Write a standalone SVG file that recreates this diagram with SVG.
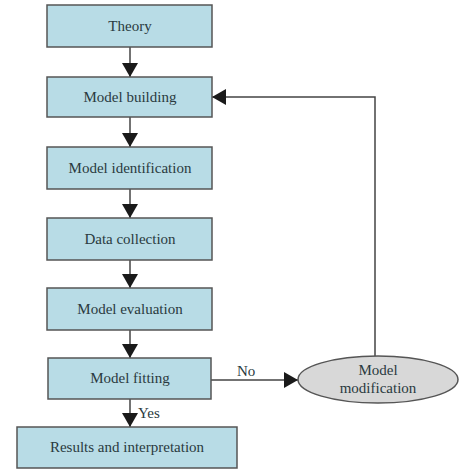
<svg xmlns="http://www.w3.org/2000/svg" width="474" height="474" viewBox="0 0 474 474">
<style>
.box{fill:#b8dce6;stroke:#555;stroke-width:1.5}
.ell{fill:#d8d8d8;stroke:#555;stroke-width:1.5}
.t{font-family:"Liberation Serif",serif;font-size:15px;fill:#2a3a40;text-anchor:middle}
.l{font-family:"Liberation Serif",serif;font-size:15px;fill:#2a3a40}
.c{stroke:#444;stroke-width:1.5;fill:none}
</style>
<defs>
<marker id="a" markerWidth="14" markerHeight="16" refX="14" refY="8" orient="auto" markerUnits="userSpaceOnUse">
<path d="M0,0 L14,8 L0,16 Z" fill="#1a1a1a"/>
</marker>
</defs>
<rect width="474" height="474" fill="#fff"/>
<g id="connectors">
<line class="c" x1="130" y1="47" x2="130" y2="77" marker-end="url(#a)"/>
<line class="c" x1="130" y1="117" x2="130" y2="147" marker-end="url(#a)"/>
<line class="c" x1="130" y1="189" x2="130" y2="218" marker-end="url(#a)"/>
<line class="c" x1="130" y1="260" x2="130" y2="288" marker-end="url(#a)"/>
<line class="c" x1="130" y1="330" x2="130" y2="358" marker-end="url(#a)"/>
<line class="c" x1="130" y1="399" x2="130" y2="427" marker-end="url(#a)"/>
<line class="c" x1="211" y1="380" x2="298" y2="380" marker-end="url(#a)"/>
<polyline class="c" points="375,356 375,97 212,97" marker-end="url(#a)"/>
<text class="l" x="237" y="376">No</text>
<text class="l" x="138" y="418">Yes</text>
</g>
<g id="theory"><rect class="box" x="47" y="5" width="165" height="42"/><text class="t" x="130" y="31">Theory</text></g>
<g id="model-building"><rect class="box" x="47" y="77" width="165" height="40"/><text class="t" x="130" y="102">Model building</text></g>
<g id="model-identification"><rect class="box" x="47" y="147" width="165" height="42"/><text class="t" x="130" y="173">Model identification</text></g>
<g id="data-collection"><rect class="box" x="47" y="218" width="165" height="42"/><text class="t" x="130" y="244">Data collection</text></g>
<g id="model-evaluation"><rect class="box" x="47" y="288" width="165" height="42"/><text class="t" x="130" y="314">Model evaluation</text></g>
<g id="model-fitting"><rect class="box" x="48" y="358" width="163" height="41"/><text class="t" x="130" y="383">Model fitting</text></g>
<g id="results"><rect class="box" x="17" y="427" width="220" height="41"/><text class="t" x="127" y="452">Results and interpretation</text></g>
<g id="model-modification"><ellipse class="ell" cx="378" cy="379.5" rx="80" ry="23.5"/><text class="t" x="378" y="375">Model</text><text class="t" x="378" y="393">modification</text></g>
</svg>
